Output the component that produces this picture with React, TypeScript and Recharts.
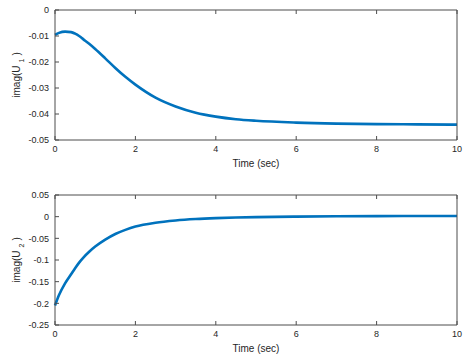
import { LineChart, Line, XAxis, YAxis } from 'recharts'

// time axis (sec)
const time = [0, 0.1, 0.25, 0.4, 0.5, 0.6, 0.7, 0.85, 1, 1.25, 1.5, 1.75, 2, 2.5, 3, 3.5, 4, 4.5, 5, 6, 7, 8, 9, 10]
// imag(U1)
const u1 = [
  -0.0096, -0.0088, -0.0083, -0.0085, -0.0091, -0.01, -0.0112, -0.013, -0.015, -0.0186, -0.0223, -0.0257,
  -0.0287, -0.0337, -0.0371, -0.0395, -0.041, -0.042, -0.0426, -0.0433, -0.0437, -0.0439, -0.044, -0.0441,
]
// imag(U2)
const u2 = [
  -0.205, -0.181, -0.154, -0.133, -0.119, -0.106, -0.095, -0.081, -0.069, -0.053, -0.04, -0.0305,
  -0.0229, -0.014, -0.0088, -0.0055, -0.0034, -0.002, -0.001, 0.0002, 0.0009, 0.0013, 0.0015, 0.0017,
]

const xTicks = [0, 2, 4, 6, 8, 10]
const y1Ticks = [-0.05, -0.04, -0.03, -0.02, -0.01, 0]
const y2Ticks = [-0.25, -0.2, -0.15, -0.1, -0.05, 0, 0.05]

const rows1 = time.map((t, i) => ({ t, v: u1[i] }))
const rows2 = time.map((t, i) => ({ t, v: u2[i] }))

const AXIS = '#4d4d4d'
const FONT = '"Liberation Sans", Arial, sans-serif'
const tickStyle = { fontSize: 9, fill: '#262626', fontFamily: FONT }
const noLabel = () => <g />

const Labels = ({ sub, h }: { sub: string; h: number }) => (
  <svg width={474} height={h} style={{ position: 'absolute', left: 0, top: 0, pointerEvents: 'none' }}>
    <text
      transform="translate(20,75) rotate(-90)"
      textAnchor="middle"
      fontSize={10}
      fontFamily={FONT}
      fill="#262626"
    >
      imag(U<tspan dy={4} fontSize={7} dx={3}>{sub}</tspan>
      <tspan dy={-4} dx={3}>)</tspan>
    </text>
    <text x={256} y={163} textAnchor="middle" dominantBaseline="central" fontSize={10} fontFamily={FONT} fill="#262626">
      Time (sec)
    </text>
  </svg>
)

const Plot = ({ rows, ticks, domain, sub, top, h }: any) => (
  <div style={{ position: 'absolute', left: 0, top, width: 474, height: h }}>
    <LineChart width={474} height={h} data={rows} margin={{ top: 9, right: 16, bottom: 0, left: 5 }}>
      <XAxis
        dataKey="t"
        type="number"
        domain={[0, 10]}
        ticks={xTicks}
        height={h - 140}
        stroke={AXIS}
        tickSize={-4}
        tickMargin={10}
        tick={tickStyle}
      />
      <XAxis
        xAxisId="top"
        orientation="top"
        dataKey="t"
        type="number"
        domain={[0, 10]}
        ticks={xTicks}
        height={1}
        stroke={AXIS}
        tickSize={-4}
        tick={noLabel}
      />
      <YAxis
        type="number"
        domain={domain}
        ticks={ticks}
        width={50}
        stroke={AXIS}
        tickSize={-4}
        tickMargin={10}
        tick={tickStyle}
        tickFormatter={(v: number) => String(v)}
        allowDataOverflow
      />
      <YAxis
        yAxisId="right"
        orientation="right"
        type="number"
        domain={domain}
        ticks={ticks}
        width={1}
        stroke={AXIS}
        tickSize={-4}
        tick={noLabel}
      />
      <Line
        dataKey="v"
        type="monotone"
        stroke="#0072BD"
        strokeWidth={2.6}
        dot={false}
        isAnimationActive={false}
      />
    </LineChart>
    <Labels sub={sub} h={h} />
  </div>
)

export default function App() {
  return (
    <div style={{ position: 'absolute', left: 0, top: 0, width: 474, height: 357, background: '#fff' }}>
      <Plot rows={rows1} ticks={y1Ticks} domain={[-0.05, 0]} sub="1" top={0} h={175} />
      <Plot rows={rows2} ticks={y2Ticks} domain={[-0.25, 0.05]} sub="2" top={185} h={172} />
    </div>
  )
}
